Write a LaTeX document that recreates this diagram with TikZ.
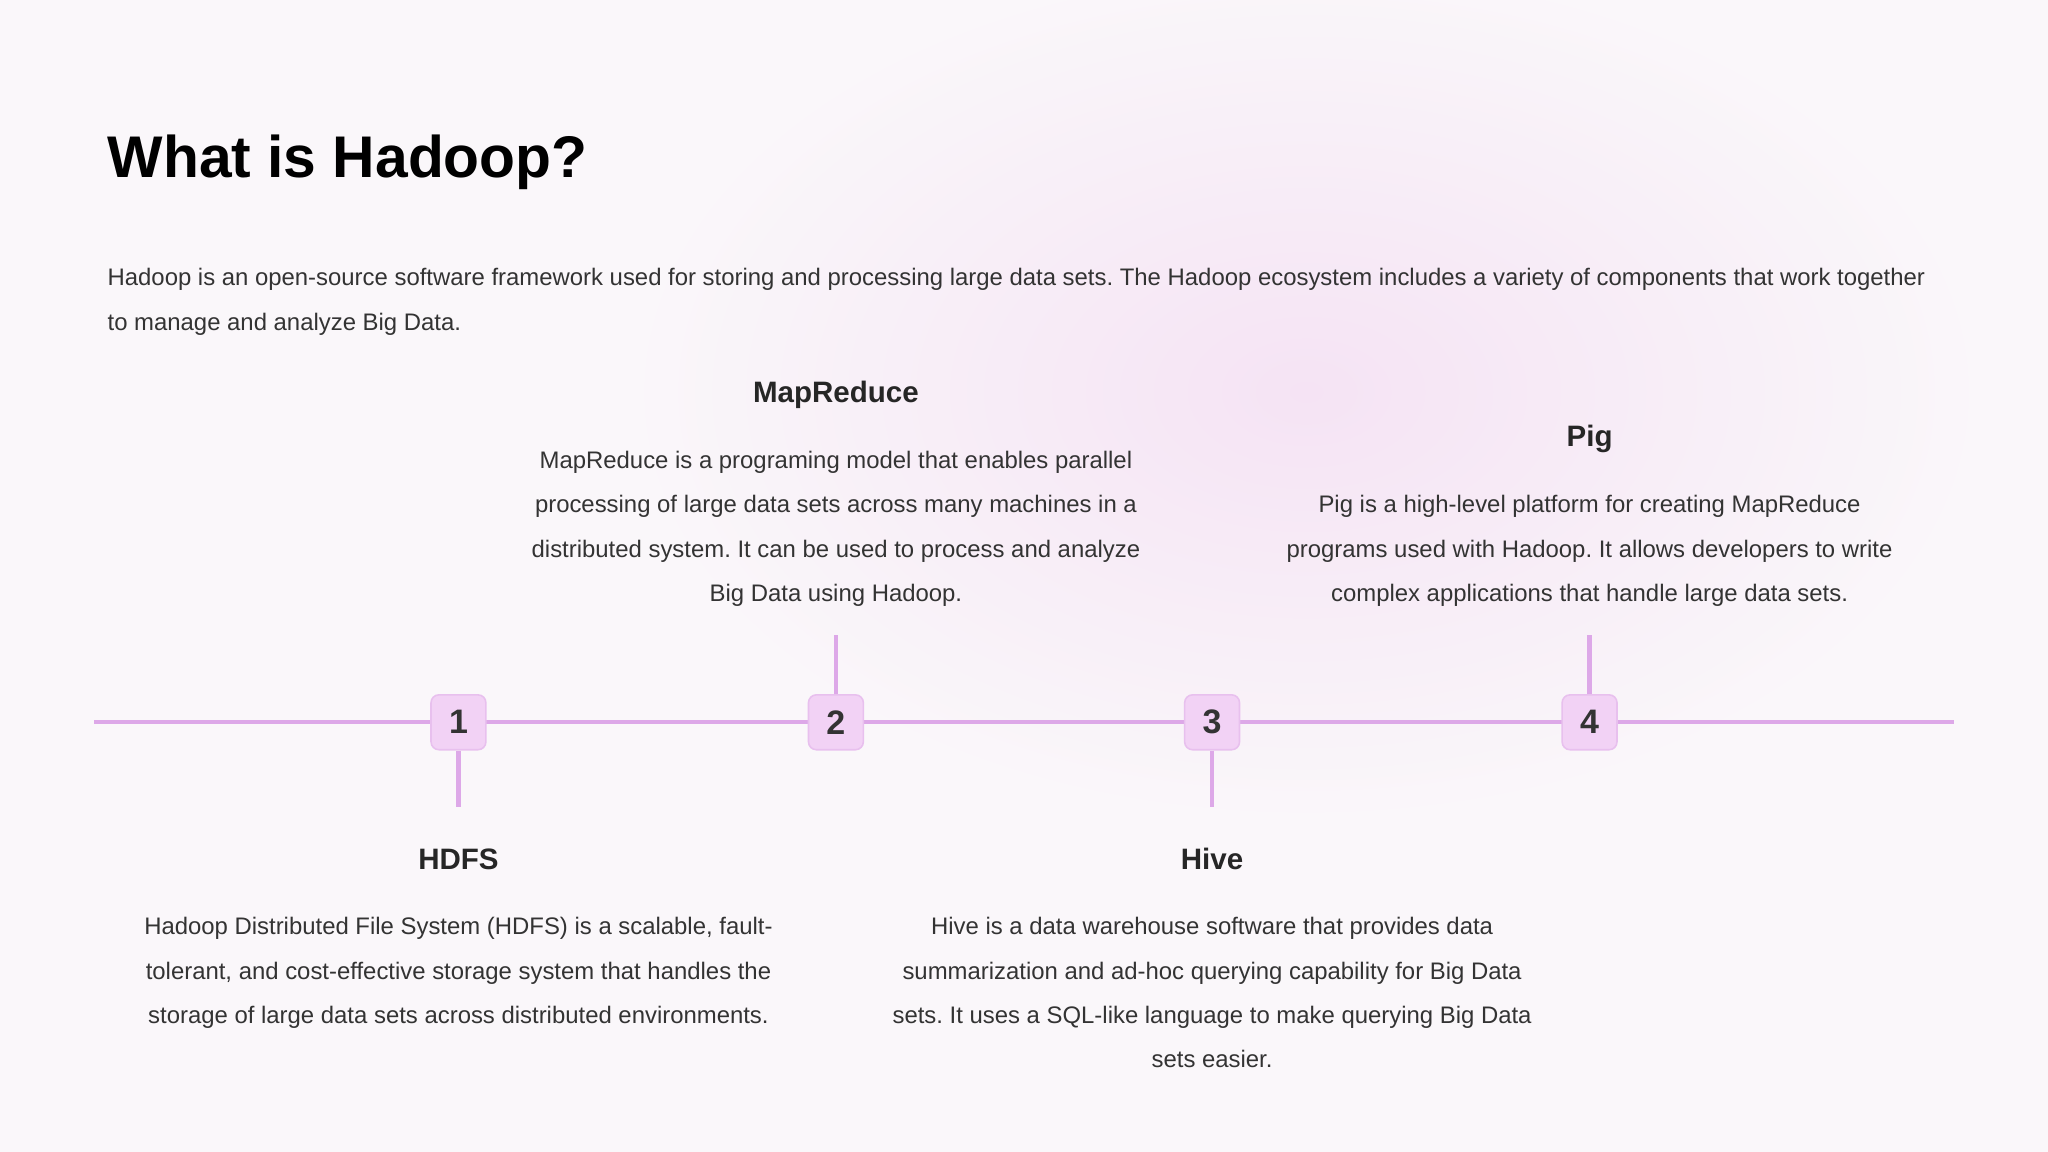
\documentclass[tikz,border=0pt]{standalone}
\usepackage{fontspec}
\setmainfont{Liberation Sans}
\frenchspacing
\begin{document}
\begin{tikzpicture}[x=0.5pt,y=-0.5pt,
 body/.style={align=center,font=\fontsize{9.15pt}{17pt}\selectfont,text=black!80,anchor=north,inner sep=0pt},
 head/.style={font=\fontsize{11.3pt}{14pt}\selectfont\bfseries,text=black!85,inner sep=0pt},
 numbox/.style={draw=boxdraw,fill=boxfill,rounded corners=3pt,minimum size=21pt,inner sep=0pt,line width=0.6pt,font=\fontsize{13pt}{14pt}\selectfont\bfseries,text=black!80},
 tline/.style={draw=linec,line width=1.6pt}]
\definecolor{bg}{HTML}{FAF7FA}
\definecolor{linec}{HTML}{DDA8E8}
\definecolor{boxfill}{HTML}{F2D2F5}
\definecolor{boxdraw}{HTML}{E8C0EE}
\definecolor{glow}{HTML}{F5E3F4}
\useasboundingbox (0,0) rectangle (1568,882);
\fill[bg] (0,0) rectangle (1568,882);
\begin{scope}
\clip (0,0) rectangle (1568,882);
\shade[inner color=glow,outer color=bg] (1000,300) ellipse (520 and 330);
\end{scope}
\node[anchor=base west,inner sep=0pt,font=\fontsize{22.5pt}{26pt}\selectfont\bfseries] (title) at (82,136) {What is Hadoop?};
\node[anchor=north west,align=left,inner sep=0pt,font=\fontsize{9.15pt}{17pt}\selectfont,text=black!80] (intro) at (82,205) {Hadoop is an open-source software framework used for storing and processing large data sets. The Hadoop ecosystem includes a variety of components that work together\\to manage and analyze Big Data.};
\coordinate (L) at (72,553); \coordinate (R) at (1496,553);
\draw[tline] (L) -- (R);
\coordinate (s1) at (351,618); \coordinate (s2) at (640,486); \coordinate (s3) at (928,618); \coordinate (s4) at (1217,486);
\node[numbox] (n1) at (351,553) {1};
\node[numbox] (n2) at (640,553) {2};
\node[numbox] (n3) at (928,553) {3};
\node[numbox] (n4) at (1217,553) {4};
\draw[tline] (n1) -- (s1); \draw[tline] (n2) -- (s2); \draw[tline] (n3) -- (s3); \draw[tline] (n4) -- (s4);
\node[head] (h2) at (640,302) {MapReduce};
\node[body] (b2) at (640,345) {MapReduce is a programing model that enables parallel\\processing of large data sets across many machines in a\\distributed system. It can be used to process and analyze\\Big Data using Hadoop.};
\node[head] (h4) at (1217,336) {Pig};
\node[body] (b4) at (1217,379) {Pig is a high-level platform for creating MapReduce\\programs used with Hadoop. It allows developers to write\\complex applications that handle large data sets.};
\node[head] (h1) at (351,658) {HDFS};
\node[body] (b1) at (351,702) {Hadoop Distributed File System (HDFS) is a scalable, fault-\\tolerant, and cost-effective storage system that handles the\\storage of large data sets across distributed environments.};
\node[head] (h3) at (928,658) {Hive};
\node[body] (b3) at (928,702) {Hive is a data warehouse software that provides data\\summarization and ad-hoc querying capability for Big Data\\sets. It uses a SQL-like language to make querying Big Data\\sets easier.};
\end{tikzpicture}
\end{document}
